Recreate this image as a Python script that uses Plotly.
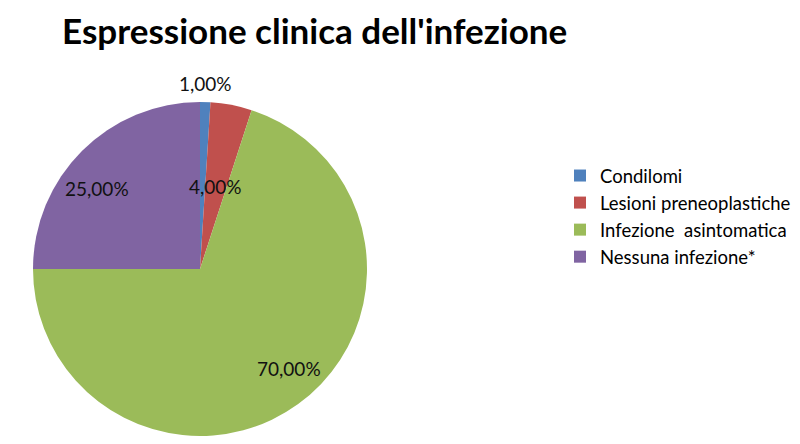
import math
import plotly.graph_objects as go

categories = ["Condilomi", "Lesioni preneoplastiche", "Infezione  asintomatica", "Nessuna infezione*"]
values = [1, 4, 70, 25]
colors = ["#4F81BD", "#C0504D", "#9BBB59", "#8064A2"]
label_text = ["1,00%", "4,00%", "70,00%", "25,00%"]
label_radius = [1.11, 0.5, 0.8, 0.785]   # fraction of pie radius
label_turn = [0, 0, -6, -7]              # degrees of offset from slice middle

W, H = 800, 444
CX, CY, R = 200, 269, 167  # pie centre / radius in pixels

fig = go.Figure(go.Pie(
    labels=categories,
    values=values,
    sort=False,
    direction="clockwise",
    rotation=0,
    marker=dict(colors=colors, line=dict(width=0)),
    textinfo="none",
    hoverinfo="label+percent",
    domain=dict(x=[(CX - R) / W, (CX + R) / W], y=[(H - CY - R) / H, (H - CY + R) / H]),
))

total = sum(values)
cum = 0
for v, t, rf, turn in zip(values, label_text, label_radius, label_turn):
    mid = (cum + v / 2) / total * 2 * math.pi + math.radians(turn)
    cum += v
    px = CX + rf * R * math.sin(mid)
    py = CY - rf * R * math.cos(mid)
    fig.add_annotation(x=px / W, y=1 - py / H, xref="paper", yref="paper",
                       text=t, showarrow=False, xanchor="center", yanchor="middle",
                       font=dict(family="Lato", size=19, color="#111111"))

fig.update_layout(
    width=W, height=H,
    margin=dict(l=0, r=0, t=0, b=0),
    paper_bgcolor="white", plot_bgcolor="white",
    title=dict(text="<b>Espressione clinica dell'infezione</b>", x=62 / W, xanchor="left",
               y=1 - 19 / H, yanchor="top",
               font=dict(family="Lato", size=35, color="#000000")),
    legend=dict(x=560 / W, xanchor="left", y=1 - 157 / H, yanchor="top",
                font=dict(family="Lato", size=18.5, color="#000000"),
                itemwidth=30, tracegroupgap=0),
    showlegend=True,
)

fig.write_html("out.html")
